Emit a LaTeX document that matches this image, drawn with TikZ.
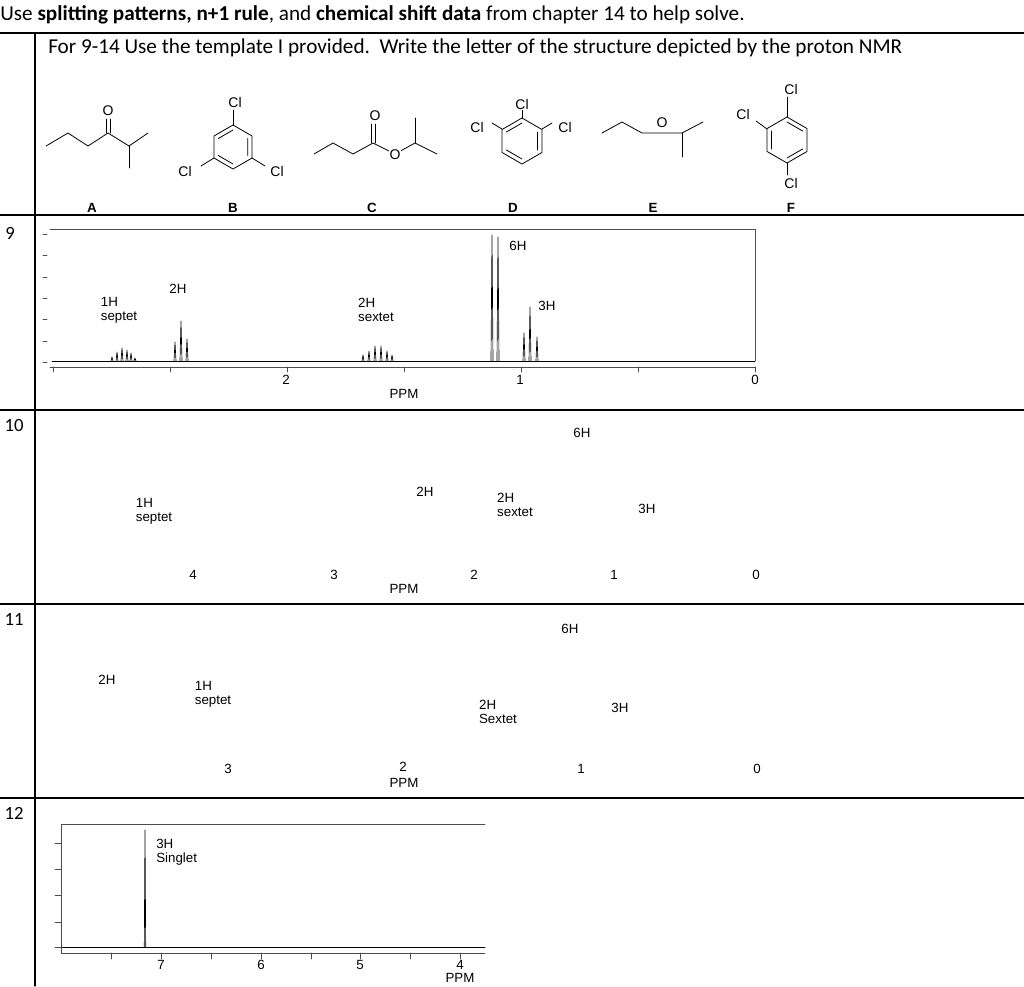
\documentclass[tikz,border=0pt]{standalone}
\usepackage{fontspec}
\setmainfont{Liberation Sans}
\newfontfamily\calib{Carlito}
\begin{document}
\begin{tikzpicture}[x=0.75pt,y=-0.75pt,line cap=round,line join=round,
  lbl/.style={font=\fontsize{10}{10.5}\selectfont,inner sep=0pt,align=left},
  atom/.style={font=\fontsize{10.5}{11}\selectfont,inner sep=0.3pt,fill=white},
  letter/.style={font=\fontsize{10}{10}\selectfont\bfseries,inner sep=0pt},
  rownum/.style={font=\calib\fontsize{14}{14}\selectfont,inner sep=0pt},
  bond/.style={line width=0.6pt},
  grid/.style={line width=0.8pt},
  ax/.style={line width=0.5pt,black!70},
  spec/.style={line width=0.5pt}]
\useasboundingbox (0,0) rectangle (1024,986);
% title and table
\node[anchor=west,font=\calib\fontsize{15.9}{16}\selectfont,inner sep=0pt] (title) at (0,15) {Use \textbf{splitting patterns, n+1 rule}, and \textbf{chemical shift data} from chapter 14 to help solve.};
\node[anchor=west,font=\calib\fontsize{15.9}{16}\selectfont,inner sep=0pt] (sub) at (48,48) {For 9-14 Use the template I provided.\ \ Write the letter of the structure depicted by the proton NMR};
\draw[grid] (0,33) -- (1024,33);
\draw[grid] (35,33) -- (35,986);
\foreach \y in {215,410,604,798} \draw[grid] (0,\y) -- (1024,\y);
\node[rownum] (r9) at (10,233) {9};
\node[rownum] (r10) at (14,425) {10};
\node[rownum] (r11) at (14,619) {11};
\node[rownum] (r12) at (14,813) {12};
% ---- structure A
\draw[bond] (46,146)--(68,133)--(88,146)--(108,133)--(129,146)--(148,133);
\draw[bond] (129,146)--(129,168);
\draw[bond] (106,133)--(106,119) (110,133)--(110,119);
\node[atom] (oA) at (108,111) {O};
% ---- structure B
\begin{scope}[shift={(233,147)}]
\draw[bond] (90:-22)--(30:-22)--(-30:-22)--(-90:-22)--(-150:-22)--(150:-22)--cycle;
\draw[bond] (90:-17)--(30:-17) (-30:-17)--(-90:-17) (-150:-17)--(150:-17);
\end{scope}
\draw[bond] (233,125)--(233,110);
\draw[bond] (252,158)--(265,166);
\draw[bond] (214,158)--(201,166);
\node[atom] (clB1) at (235,102) {Cl};
\node[atom] (clB2) at (185,171) {Cl};
\node[atom] (clB3) at (277,171) {Cl};
% ---- structure C
\draw[bond] (314,154)--(333,143)--(353,154)--(373,143)--(395,154)--(415,143)--(437,154);
\draw[bond] (415,143)--(415,118);
\draw[bond] (371,143)--(371,124) (375,143)--(375,124);
\node[atom] (oC1) at (375,116) {O};
\node[atom] (oC2) at (395,155) {O};
% ---- structure D
\begin{scope}[shift={(522,141)}]
\draw[bond] (90:-23)--(30:-23)--(-30:-23)--(-90:-23)--(-150:-23)--(150:-23)--cycle;
\draw[bond] (90:-18)--(30:-18) (-30:-18)--(-90:-18) (-150:-18)--(150:-18);
\end{scope}
\draw[bond] (522,118)--(522,110);
\draw[bond] (542,129)--(552,123);
\draw[bond] (502,129)--(492,123);
\node[atom] (clD1) at (522,104) {Cl};
\node[atom] (clD2) at (477,127) {Cl};
\node[atom] (clD3) at (565,127) {Cl};
% ---- structure E
\draw[bond] (602,133)--(622,122)--(642,133)--(682,133)--(703,122);
\draw[bond] (682,133)--(682,157);
\node[atom] (oE) at (662,123) {O};
% ---- structure F
\begin{scope}[shift={(787,140)}]
\draw[bond] (90:-23)--(30:-23)--(-30:-23)--(-90:-23)--(-150:-23)--(150:-23)--cycle;
\draw[bond] (90:-18)--(150:-18) (30:-18)--(-30:-18) (-90:-18)--(-150:-18);
\end{scope}
\draw[bond] (787,117)--(787,97);
\draw[bond] (767,129)--(756,121);
\draw[bond] (787,163)--(787,175);
\node[atom] (clF1) at (791,89) {Cl};
\node[atom] (clF2) at (743,114) {Cl};
\node[atom] (clF3) at (791,183) {Cl};
\foreach \l/\x in {A/92,B/233,C/372,D/513,E/653,F/791} \node[letter] (let\l) at (\x,208) {\l};
% ---- spectrum 9
\draw[ax] (50,229)--(755,229)--(755,361);
\draw[ax] (50,367)--(755,367);
\foreach \y in {234,255,277,298,319,341,362} \draw[ax] (43,\y)--(47,\y);
\foreach \x in {53,170,287,404,521,638,755} \draw[ax] (\x,367)--(\x,372);
\draw[spec] (52,361)--(755,361);
\foreach \x/\t in {112/357,117/352,122/348,127/350,131/353,135/358,
  175/342,181/321,187/339,
  363/355,369/351,375/346,381/346,387/351,392/355,
  492/235,498/237,524/333,530/307,537/337}
  \draw[spec] (\x-1,361) -- (\x,\t) -- (\x+1,361);
\node[lbl] (s9a) at (119,310) {1H\\septet};
\node[lbl] (s9b) at (178,289) {2H};
\node[lbl] (s9c) at (376,310) {2H\\sextet};
\node[lbl] (s9d) at (518,246) {6H};
\node[lbl] (s9e) at (547,306) {3H};
\node[lbl] (t92) at (286,380) {2};
\node[lbl] (t91) at (520,380) {1};
\node[lbl] (t90) at (755,380) {0};
\node[lbl] (p9) at (404,394) {PPM};
% ---- spectrum 10
\node[lbl] (s10a) at (582,433) {6H};
\node[lbl] (s10b) at (425,492) {2H};
\node[lbl] (s10c) at (515,505) {2H\\sextet};
\node[lbl] (s10d) at (154,511) {1H\\septet};
\node[lbl] (s10e) at (647,509) {3H};
\foreach \n/\x in {4/193,3/334,2/474,1/614,0/756} \node[lbl] (t10\n) at (\x,575) {\n};
\node[lbl] (p10) at (404,589) {PPM};
% ---- spectrum 11
\node[lbl] (s11a) at (570,629) {6H};
\node[lbl] (s11b) at (107,680) {2H};
\node[lbl] (s11c) at (213,694) {1H\\septet};
\node[lbl] (s11d) at (498,712) {2H\\Sextet};
\node[lbl] (s11e) at (620,708) {3H};
\node[lbl] (t113) at (228,769) {3};
\node[lbl] (t112) at (403,767) {2};
\node[lbl] (t111) at (581,769) {1};
\node[lbl] (t110) at (757,769) {0};
\node[lbl] (p11) at (404,783) {PPM};
% ---- spectrum 12
\draw[ax] (485,824)--(61,824)--(61,953)--(485,953);
\foreach \y in {843,869,895,922,947} \draw[ax] (55,\y)--(61,\y);
\foreach \x in {111,161,211,261,311,360,410,460} \draw[ax] (\x,953)--(\x,959);
\draw[spec] (62,947)--(485,947);
\draw[spec] (144.3,947) -- (145,830) -- (145.7,947);
\node[lbl,anchor=north west] (s12) at (156,839) {3H\\Singlet};
\foreach \n/\x in {7/161,6/261,5/360,4/460} \node[lbl] (t12\n) at (\x,965) {\n};
\node[lbl] (p12) at (460,978) {PPM};
\end{tikzpicture}
\end{document}
